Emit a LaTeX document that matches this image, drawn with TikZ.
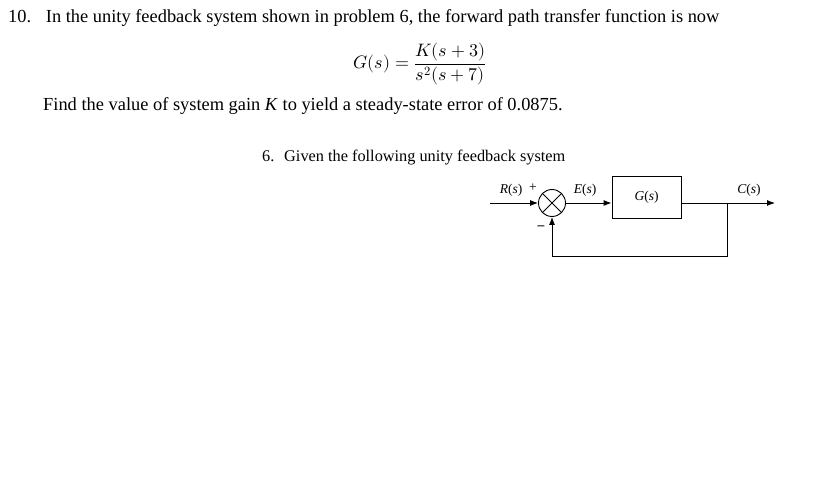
\documentclass[tikz,border=0pt]{standalone}
\usepackage{fontspec}
\usepackage{unicode-math}
\setmainfont{Liberation Serif}
\setmathfont{Latin Modern Math}
\usetikzlibrary{arrows.meta}
\begin{document}
\begin{tikzpicture}[x=1pt,y=-1pt,
  txt/.style={anchor=west,inner sep=0pt,font=\fontsize{18.4}{21}\selectfont},
  sm/.style={inner sep=0pt,font=\fontsize{13.5}{15}\selectfont},
  line/.style={line width=0.9pt},
  arr/.style={line width=0.9pt,-{Latex[length=8pt,width=6pt]}}]
\useasboundingbox (0,0) rectangle (820,494);
\node[txt] (l1) at (8,18) {10.\hspace{0.8em}In the unity feedback system shown in problem 6, the forward path transfer function is now};
\node[inner sep=0pt,font=\fontsize{18}{21}\selectfont] (eq) at (420,64) {$G(s)=\dfrac{K(s+3)}{s^2(s+7)}$};
\node[txt] (l2) at (43,106) {Find the value of system gain \emph{K} to yield a steady-state error of 0.0875.};
\node[txt,font=\fontsize{16.3}{18}\selectfont] (l3) at (262,158) {6.\hspace{0.6em}Given the following unity feedback system};
\coordinate (in) at (490,203);
\node[draw,circle,line,minimum size=27pt,inner sep=0pt] (sum) at (552,203) {};
\draw[line] (sum.north west)--(sum.south east) (sum.north east)--(sum.south west);
\node[draw,line,minimum width=69pt,minimum height=42pt,inner sep=0pt,sm] (g) at (646.5,197) {\textit{G}(\textit{s})};
\coordinate (tap) at (727,203);
\coordinate (out) at (775,203);
\coordinate (bot) at (727,256);
\coordinate (botl) at (552,256);
\draw[arr] (in)--(sum.west);
\draw[arr] (sum.east)--(g.west|-sum.east);
\draw[arr] (g.east|-tap)--(out);
\draw[line] (tap)--(bot)--(botl);
\draw[arr] (botl)--(sum.south);
\node[sm] (rs) at (511,190) {\textit{R}(\textit{s})};
\node[sm] (pl) at (533,188) {+};
\node[sm] (es) at (585,190) {\textit{E}(\textit{s})};
\node[sm] (cs) at (749,190) {\textit{C}(\textit{s})};
\node[sm] (mi) at (541,228) {\textbf{–}};
\end{tikzpicture}
\end{document}
